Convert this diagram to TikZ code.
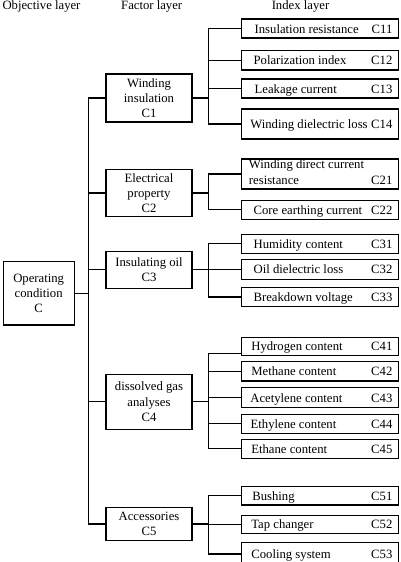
\documentclass[tikz,border=0pt]{standalone}
\usepackage{fontspec}
\setmainfont{Liberation Serif}
\newcommand\ibx[6]{%
  \node[ibox, minimum height=#3pt] (#1) at (320,#2) {};
  \node[itxt] (#1t) at ([xshift=#4pt, yshift=-4.5pt]#1.west) {#5};
  \node[icode] (#1c) at ([xshift=-6.5pt, yshift=-4.5pt]#1.east) {#6};
}
\begin{document}
\begin{tikzpicture}[x=1pt,y=-1pt,
  font=\fontsize{12.7}{15.3}\selectfont,
  box/.style={draw, rectangle, inner sep=0pt, line width=1.1pt},
  ibox/.style={box, minimum width=157pt},
  fbox/.style={box, minimum width=86pt, align=center},
  itxt/.style={anchor=base west, inner sep=0pt},
  icode/.style={anchor=base east, inner sep=0pt},
  hdr/.style={anchor=base, inner sep=0pt},
  conn/.style={line width=1.1pt}]
\useasboundingbox (0,0) rectangle (400,562);

% headers
\node[hdr] (h1) at (41.5,9.5) {Objective layer};
\node[hdr] (h2) at (151.7,9.5) {Factor layer};
\node[hdr] (h3) at (300.5,9.5) {Index layer};

% objective
\node[box, minimum width=70.7pt, minimum height=63.3pt, align=center] (OC) at (38.7,293.3) {Operating\\condition\\C};

% factors
\node[fbox, minimum height=48pt] (F1) at (149,98) {Winding\\insulation\\C1};
\node[fbox, minimum height=47.4pt] (F2) at (149,193) {Electrical\\property\\C2};
\node[fbox, minimum height=37.3pt] (F3) at (149,269.7) {Insulating oil\\C3};
\node[fbox, minimum height=55pt] (F4) at (149,401.8) {dissolved gas\\analyses\\C4};
\node[fbox, minimum height=33.4pt] (F5) at (149,524) {Accessories\\C5};

% indices
\ibx{C11}{28.5}{19}{13.5}{Insulation resistance}{C11}
\ibx{C12}{60.3}{19.3}{12.5}{Polarization index}{C12}
\ibx{C13}{88.5}{19}{13.5}{Leakage current}{C13}
\ibx{C14}{124}{30}{9.2}{Winding dielectric loss}{C14}

\node[ibox, minimum height=30pt] (C21) at (320,174) {};
\node[itxt] (C21t) at ([xshift=7.8pt, yshift=5.5pt]C21.west) {Winding direct current};
\node[itxt] (C21u) at ([xshift=7.8pt, yshift=-10.5pt]C21.west) {resistance};
\node[icode] (C21c) at ([xshift=-6.5pt, yshift=-10.5pt]C21.east) {C21};
\ibx{C22}{209.7}{19.3}{12.5}{Core earthing current}{C22}

\ibx{C31}{243.7}{19.3}{12.5}{Humidity content}{C31}
\ibx{C32}{269.3}{20}{12.5}{Oil dielectric loss}{C32}
\ibx{C33}{297}{19.4}{12.5}{Breakdown voltage}{C33}

\ibx{C41}{346.2}{17.7}{10.2}{Hydrogen content}{C41}
\ibx{C42}{371.3}{19.3}{10.2}{Methane content}{C42}
\ibx{C43}{397.5}{19.6}{9.2}{Acetylene content}{C43}
\ibx{C44}{423.7}{19.3}{9.5}{Ethylene content}{C44}
\ibx{C45}{448.8}{19}{10.2}{Ethane content}{C45}

\ibx{C51}{495.8}{18.3}{11.2}{Bushing}{C51}
\ibx{C52}{524.2}{18.3}{10.2}{Tap changer}{C52}
\ibx{C53}{554}{23.4}{10.2}{Cooling system}{C53}

% trunk
\draw[conn] (OC.east) -- ++(14.3,0) coordinate (tr);
\foreach \f in {F1,F2,F3,F4,F5} \draw[conn] (\f.west) -| (tr);

% branches
\draw[conn] (F1.east) -- ++(16.3,0) coordinate (b1);
\foreach \c in {C11,C12,C13,C14} \draw[conn] (b1) |- (\c.west);
\draw[conn] (F2.east) -- ++(16.3,0) coordinate (b2);
\foreach \c in {C21,C22} \draw[conn] (b2) |- (\c.west);
\draw[conn] (F3.east) -- ++(16.3,0) coordinate (b3);
\foreach \c in {C31,C32,C33} \draw[conn] (b3) |- (\c.west);
\draw[conn] (F4.east) -- ++(16.3,0) coordinate (b4);
\draw[conn] (b4) |- ([yshift=-7pt]C41.west);
\foreach \c in {C42,C43,C44,C45} \draw[conn] (b4) |- (\c.west);
\draw[conn] (F5.east) -- ++(16.3,0) coordinate (b5);
\foreach \c in {C51,C52,C53} \draw[conn] (b5) |- (\c.west);
\end{tikzpicture}
\end{document}
